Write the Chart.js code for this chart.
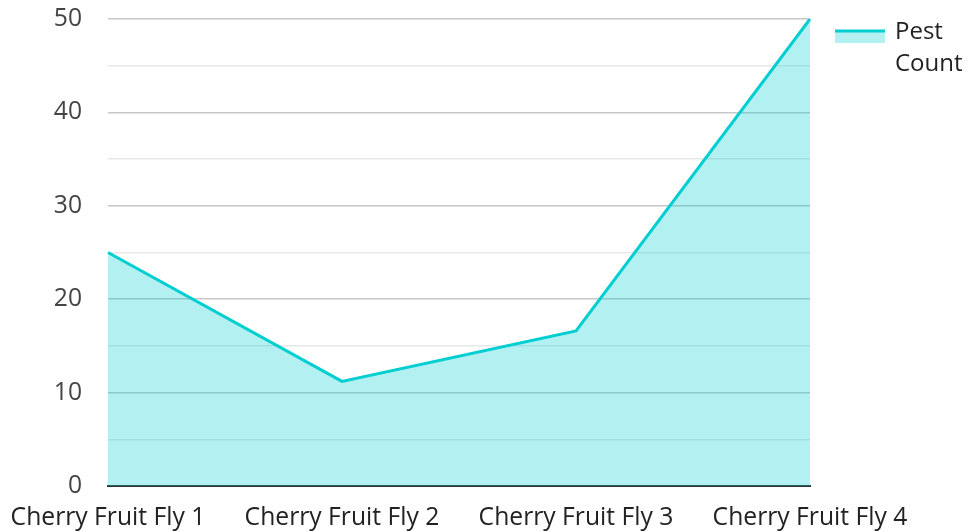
<!DOCTYPE html>
<html>
<head>
<meta charset="utf-8">
<script src="https://cdn.jsdelivr.net/npm/chart.js@4"></script>
<style>
  html, body { margin: 0; padding: 0; background: #fff; }
  #wrap { width: 968px; height: 531px; }
</style>
</head>
<body>
<div id="wrap"><canvas id="grafica"></canvas></div>
<script>
const categorias = ["Cherry Fruit Fly 1", "Cherry Fruit Fly 2", "Cherry Fruit Fly 3", "Cherry Fruit Fly 4"];
const conteos = [25, 11.2, 16.6, 50];
const serieNombre = "Pest Count";

// leyenda propia, con el texto partido en dos lineas
const leyendaDerecha = {
  id: "leyendaDerecha",
  afterDraw(chart) {
    const ctx = chart.ctx;
    const ds = chart.data.datasets[0];
    const x = 835, y = 31;
    ctx.save();
    ctx.fillStyle = ds.backgroundColor;
    ctx.fillRect(x, y, 50, 12);
    ctx.strokeStyle = ds.borderColor;
    ctx.lineWidth = 3;
    ctx.beginPath();
    ctx.moveTo(x, y);
    ctx.lineTo(x + 50, y);
    ctx.stroke();
    ctx.fillStyle = "#222";
    ctx.font = "24px 'Open Sans'";
    ctx.textBaseline = "middle";
    ds.label.split(" ").forEach((linea, i) => {
      ctx.fillText(linea, x + 60, y + 1 + i * 32);
    });
    ctx.restore();
  }
};

new Chart(document.getElementById("grafica"), {
  type: "line",
  data: {
    labels: categorias,
    datasets: [{
      label: serieNombre,
      data: conteos,
      borderColor: "#00CED1",
      backgroundColor: "rgba(0, 206, 209, 0.3)",
      borderWidth: 3,
      fill: "origin",
      tension: 0,
      pointRadius: 0
    }]
  },
  options: {
    responsive: true,
    maintainAspectRatio: false,
    animation: false,
    layout: { padding: { top: 19, right: 158, bottom: 0, left: 0 } },
    plugins: {
      legend: { display: false },
      tooltip: { enabled: false }
    },
    scales: {
      x: {
        grid: { display: false, drawTicks: false },
        border: { display: true, color: "#333", width: 2 },
        ticks: { color: "#222", font: { family: "Open Sans", size: 24.7 }, padding: 17, maxRotation: 0 },
        afterFit: s => {
          s.height = 45;
          s.paddingLeft = 0;
          s.paddingRight = 0;
        }
      },
      y: {
        min: 0,
        max: 50,
        grid: {
          drawTicks: false,
          color: c => (c.tick.value % 10 === 0 ? "#c8c8c8" : "#e8e8e8"),
          lineWidth: 1.5
        },
        border: { display: false },
        ticks: {
          stepSize: 5,
          color: "#444",
          padding: 26,
          font: { family: "Open Sans", size: 24.7 },
          callback: v => (v % 10 === 0 ? v : "")
        },
        afterFit: s => {
          s.width = 108;
          s.paddingTop = 0;
          s.paddingBottom = 0;
        }
      }
    }
  },
  plugins: [leyendaDerecha]
});
</script>
</body>
</html>
